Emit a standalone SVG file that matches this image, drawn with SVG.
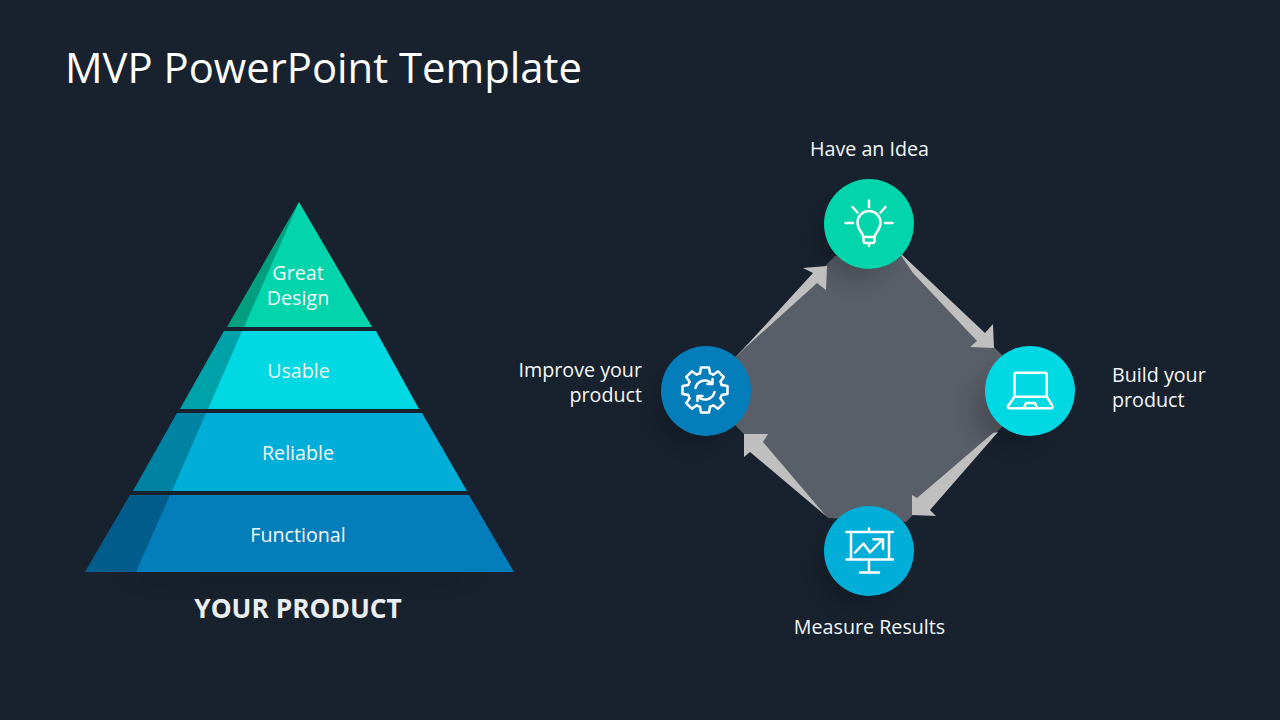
<svg xmlns="http://www.w3.org/2000/svg" xmlns:xlink="http://www.w3.org/1999/xlink" width="1280" height="720" viewBox="0 0 1280 720">
<style>
text{font-family:"Open Sans","Noto Sans","Liberation Sans",sans-serif;fill:#f4f8fa}
.lab{font-size:19.700px;text-anchor:middle}
.side{font-size:19.700px}
.ic{fill:none;stroke:#fff;stroke-width:2.500;stroke-linecap:round;stroke-linejoin:round}
.arr{fill:#bfbfbf}
.shade{fill:#000;fill-opacity:.25}
.sh{fill:#000;fill-opacity:.2}
</style>
<defs>
<filter id="blur" x="-50%" y="-50%" width="200%" height="200%"><feGaussianBlur stdDeviation="13"/></filter>
<path id="tooth" d="M-5 -16.7L-4 -22.5H4L5 -16.7A17.4 17.4 0 0 1 8.27 -15.34"/>
</defs>
<rect width="1280" height="720" fill="#18222e"/>
<text x="65" y="83" font-size="41.800" style="fill:#fff">MVP PowerPoint Template</text>

<g id="pyramid-shadow"><ellipse cx="300" cy="578" rx="190" ry="10" fill="#000" fill-opacity=".2" filter="url(#blur)"/></g>
<g id="tier-great-design">
<polygon points="299,202 372,327 227,327" fill="#02d5ab"/>
<polygon class="shade" points="299,202 244,327 227,327"/>
<text class="lab" x="298" y="279.500">Great</text><text class="lab" x="298" y="305">Design</text>
</g>
<g id="tier-usable">
<polygon points="224,331 376,331 419,409 180,409" fill="#00d8e3"/>
<polygon class="shade" points="224,331 242,331 208,409 180,409"/>
<text class="lab" x="298.500" y="377.500">Usable</text>
</g>
<g id="tier-reliable">
<polygon points="177,413 422,413 467,491 133,491" fill="#00aed8"/>
<polygon class="shade" points="177,413 206,413 172,491 133,491"/>
<text class="lab" x="298" y="459.500">Reliable</text>
</g>
<g id="tier-functional">
<polygon points="130,495 469,495 514,572 85,572" fill="#047dbb"/>
<polygon class="shade" points="130,495 170,495 136,572 85,572"/>
<text class="lab" x="298" y="541.500">Functional</text>
</g>
<text id="your-product" x="298" y="617.500" font-size="26.300" font-weight="700" text-anchor="middle" style="fill:#eceff2">YOUR PRODUCT</text>

<g id="shadows-back" class="sh" filter="url(#blur)">
<circle cx="855" cy="570" r="40"/><circle cx="692" cy="410" r="40"/>
</g>
<g id="cycle-backdrop"><polygon points="835,256 902,256 1002,355 1030,391 1002,427 906,522 828,518 737,427 706,391 735,357" fill="#595f68"/></g>
<g id="shadows-front" class="sh" filter="url(#blur)">
<circle cx="855" cy="240" r="40"/><circle cx="1014" cy="410" r="40"/>
</g>
<g id="connectors">
<polygon class="arr" points="736,357 813,273 803,268 827,266 826,290 817,283 745,348"/>
<polygon class="arr" points="898,251 985,333 993,324 994,348 970,347 977,341 913,273"/>
<polygon class="arr" points="998,432 930,510 936,516 912,515 912,495 917,498 993,433"/>
<polygon class="arr" points="826,516 763,442 768,434 744,434 744,457 750,452"/>
</g>

<g id="node-idea">
<circle cx="869" cy="224" r="45" fill="#02d5ab"/>
<g class="ic">
<path d="M863.500 237C862.500 232 857.500 230 857.500 222.500A11.500 11.500 0 0 1 880.500 222.500C880.500 230 875.500 232 874.500 237ZM863.500 237V241Q863.500 243 865.500 243H872.500Q874.500 243 874.500 241V237M869 243V246"/>
<path d="M869 200.500V207M845.500 223H853M885 223H892.500M852.500 207L857.500 212.500M885.500 207L880.500 212.500"/>
</g>
</g>
<g id="node-build">
<circle cx="1030" cy="391" r="45" fill="#00d8e3"/>
<g class="ic"><path d="M1014.500 396.700V374.500Q1014.500 372.700 1016.300 372.700H1045Q1046.800 372.700 1046.800 374.500V396.700ZM1014.500 396.700L1008 406Q1007.500 408.300 1009.500 408.300H1051Q1053 408.300 1052.500 406L1046.800 396.700M1024 408.300L1026 403H1035L1037 408.300"/></g>
</g>
<g id="node-measure">
<circle cx="869" cy="551" r="45" fill="#00aed8"/>
<g class="ic"><path d="M846.500 532H893M869 528.500V532M851 532V559M889 532V559M846.500 559.500H893M869 559.500V572.500M860 572.500H879"/><path d="M855 552.500L863.500 543.500L870 552.500L882.500 539.500M873.500 539.300H883V549"/></g>
</g>
<g id="node-improve">
<circle cx="706" cy="391" r="45" fill="#047dbb"/>
<g class="ic" transform="translate(705 390)">
<use xlink:href="#tooth"/><use xlink:href="#tooth" transform="rotate(45)"/><use xlink:href="#tooth" transform="rotate(90)"/><use xlink:href="#tooth" transform="rotate(135)"/><use xlink:href="#tooth" transform="rotate(180)"/><use xlink:href="#tooth" transform="rotate(225)"/><use xlink:href="#tooth" transform="rotate(270)"/><use xlink:href="#tooth" transform="rotate(315)"/>
<path d="M-9.500 -2A9.700 9.700 0 0 1 7 -6.500M7.500 -11V-6H2.500M9.500 2A9.700 9.700 0 0 1 -7 6.500M-7.500 11V6H-2.500"/>
</g>
</g>

<g id="labels">
<text class="side" x="869.500" y="155.500" text-anchor="middle">Have an Idea</text>
<text class="side" x="1112" y="381.500">Build your</text><text class="side" x="1112" y="406.500">product</text>
<text class="side" x="869.500" y="633.500" text-anchor="middle">Measure Results</text>
<text class="side" x="642" y="376.500" text-anchor="end">Improve your</text><text class="side" x="642" y="401.500" text-anchor="end">product</text>
</g>
</svg>
